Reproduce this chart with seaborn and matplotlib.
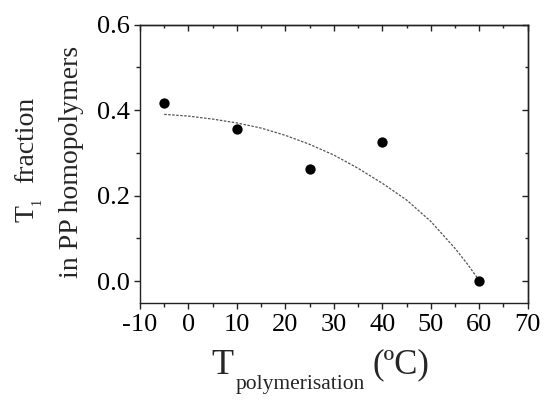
import matplotlib
matplotlib.use("Agg")
import matplotlib.pyplot as plt
import seaborn as sns
import pandas as pd
from matplotlib.ticker import MultipleLocator

# data
temp_points = [-5, 10, 25, 40, 60]
fraction_points = [0.416, 0.357, 0.263, 0.326, 0.0]

curve_temp = [-5, 0, 5, 10, 15, 20, 25, 30, 35, 40, 45, 50, 55, 57.5, 60]
curve_fraction = [0.390, 0.386, 0.379, 0.370, 0.358, 0.341, 0.320, 0.295,
                  0.264, 0.229, 0.190, 0.140, 0.077, 0.041, 0.002]

x_ticks = [-10, 0, 10, 20, 30, 40, 50, 60, 70]
y_ticks = [0.0, 0.2, 0.4, 0.6]

sns.set_theme(style="ticks")
plt.rcParams["font.family"] = ["Liberation Serif", "DejaVu Serif"]

pts = pd.DataFrame({"T": temp_points, "f": fraction_points})
crv = pd.DataFrame({"T": curve_temp, "f": curve_fraction})

W, H = 550, 403
fig = plt.figure(figsize=(5.5, 4.03), dpi=100)
ax = fig.add_axes([0.2545, 0.2489, 0.705, 0.6903])

sns.lineplot(data=crv, x="T", y="f", ax=ax, color="#555555", lw=0.9,
             linestyle=(0, (2, 1.2)), sort=False, estimator=None)
sns.scatterplot(data=pts, x="T", y="f", ax=ax, color="black", s=55,
                edgecolor="black", linewidth=0, zorder=3)

ax.set_xlim(-10, 70)
ax.set_ylim(-0.05, 0.6)
ax.set_xticks(x_ticks)
ax.set_yticks(y_ticks)
ax.set_xticklabels([str(v) for v in x_ticks])
ax.set_yticklabels([f"{v:.1f}" for v in y_ticks])
ax.xaxis.set_minor_locator(MultipleLocator(5))
ax.yaxis.set_minor_locator(MultipleLocator(0.1))
ax.set_xlabel("")
ax.set_ylabel("")

for sp in ax.spines.values():
    sp.set_visible(True)
    sp.set_linewidth(1.0)
    sp.set_color("#222222")

ax.tick_params(axis="both", which="major", direction="out", length=4.5,
               width=1.0, labelsize=19, colors="#222222", labelcolor="black")
ax.tick_params(axis="both", which="minor", direction="out", length=2.8,
               width=1.0, colors="#222222")
ax.tick_params(axis="x", which="major", pad=4)
ax.tick_params(axis="y", which="major", pad=3)

secx = ax.secondary_xaxis("top")
secx.set_xticks(x_ticks)
secx.xaxis.set_minor_locator(MultipleLocator(5))
secx.tick_params(which="major", direction="in", length=4, width=1.0,
                 labeltop=False, colors="#222222")
secx.tick_params(which="minor", direction="in", length=2.5, width=1.0,
                 colors="#222222")
secx.spines["top"].set_linewidth(1.0)

secy = ax.secondary_yaxis("right")
secy.set_yticks(y_ticks)
secy.yaxis.set_minor_locator(MultipleLocator(0.1))
secy.tick_params(which="major", direction="in", length=4, width=1.0,
                 labelright=False, colors="#222222")
secy.tick_params(which="minor", direction="in", length=2.5, width=1.0,
                 colors="#222222")
secy.spines["right"].set_linewidth(1.0)

# x label built from pieces: T, lowered subscript, unit
fig.text(211 / W, 1 - 374 / H, "T", fontsize=26, ha="left", va="baseline")
fig.text(236 / W, 1 - 389 / H, "polymerisation", fontsize=15.5,
         ha="left", va="baseline")
fig.text(373 / W, 1 - 373.5 / H, "(ºC)", fontsize=25, ha="left",
         va="baseline")

# y label line 1 built from pieces: T, small lowered 1, "fraction"
rot = dict(rotation=90, rotation_mode="anchor", ha="left", va="baseline")
fig.text(33 / W, 1 - 222 / H, "T", fontsize=20, **rot)
fig.text(41 / W, 1 - 205 / H, "1", fontsize=10, **rot)
fig.text(33 / W, 1 - 183 / H, "fraction", fontsize=20, **rot)
# y label line 2
fig.text(78 / W, 1 - 161.5 / H, "in PP homopolymers",
         fontsize=20, rotation=90, rotation_mode="anchor",
         ha="center", va="baseline")

fig.savefig("out.png", dpi=100)
